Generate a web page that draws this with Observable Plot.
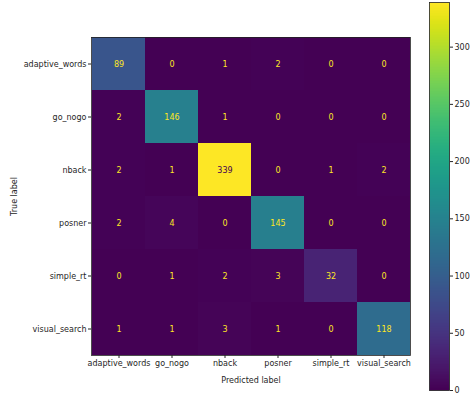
<!DOCTYPE html>
<html><head><meta charset="utf-8">
<script src="https://cdn.jsdelivr.net/npm/d3@7"></script>
<script src="https://cdn.jsdelivr.net/npm/@observablehq/plot@0.6"></script>
<style>
body{margin:0;background:#fff;}
#wrap{position:relative;width:474px;height:399px;font-family:"DejaVu Sans",sans-serif;}
#main{position:absolute;left:0;top:0;}
#cbar{position:absolute;left:400px;top:0;}
</style></head>
<body><div id="wrap"><div id="main"></div><div id="cbar"></div></div>
<script>
const labels = ["adaptive_words","go_nogo","nback","posner","simple_rt","visual_search"];
const row_adaptive_words = [89, 0, 1, 2, 0, 0];
const row_go_nogo        = [2, 146, 1, 0, 0, 0];
const row_nback          = [2, 1, 339, 0, 1, 2];
const row_posner         = [2, 4, 0, 145, 0, 0];
const row_simple_rt      = [0, 1, 2, 3, 32, 0];
const row_visual_search  = [1, 1, 3, 1, 0, 118];
const colorTicks = [0, 50, 100, 150, 200, 250, 300];

const rows = [row_adaptive_words,row_go_nogo,row_nback,row_posner,row_simple_rt,row_visual_search];
const data = [];
rows.forEach((r,i)=>r.forEach((v,j)=>data.push({t:labels[i],p:labels[j],v})));
const vmax = d3.max(data,d=>d.v), vmin = d3.min(data,d=>d.v);
const thresh = (vmax+vmin)/2;
const cmin = d3.interpolateViridis(0), cmax = d3.interpolateViridis(1);

const main = Plot.plot({
  width:420, height:399,
  marginLeft:91, marginTop:37, marginRight:10, marginBottom:44,
  style:{fontFamily:"DejaVu Sans, sans-serif", fontSize:"8px", color:"#262626", background:"#fff"},
  x:{domain:labels, padding:0},
  y:{domain:labels, padding:0},
  color:{type:"linear", scheme:"viridis", domain:[0,vmax]},
  marks:[
    Plot.cell(data,{x:"p",y:"t",fill:"v"}),
    Plot.text(data,{x:"p",y:"t",text:d=>String(d.v),fill:d=>d.v<thresh?cmax:cmin,fontSize:8}),
    Plot.frame({stroke:"#222",strokeWidth:0.8}),
    Plot.axisX({tickSize:3, tickPadding:2, label:"Predicted label", labelAnchor:"center", labelArrow:"none", labelOffset:27, fontSize:8}),
    Plot.axisY({tickSize:3, tickPadding:2, label:"True label", labelAnchor:"center", labelArrow:"none", labelOffset:80, fontSize:8})
  ]
});
document.getElementById("main").appendChild(main);

const cbar = Plot.plot({
  width:74, height:399,
  marginLeft:29, marginRight:25, marginTop:2, marginBottom:9,
  style:{fontFamily:"DejaVu Sans, sans-serif", fontSize:"8px", color:"#262626", background:"transparent"},
  x:{domain:[0,1], axis:null},
  y:{domain:[0,vmax], axis:null},
  color:{type:"linear", scheme:"viridis", domain:[0,vmax]},
  marks:[
    Plot.raster({x1:0, x2:1, y1:0, y2:vmax, width:1, height:400, fill:(x,y)=>y, imageRendering:"auto"}),
    Plot.frame({stroke:"#222",strokeWidth:0.8}),
    Plot.axisY({anchor:"right", ticks:colorTicks, tickSize:3, tickPadding:2, label:null, fontSize:8})
  ]
});
document.getElementById("cbar").appendChild(cbar);
</script></body></html>
